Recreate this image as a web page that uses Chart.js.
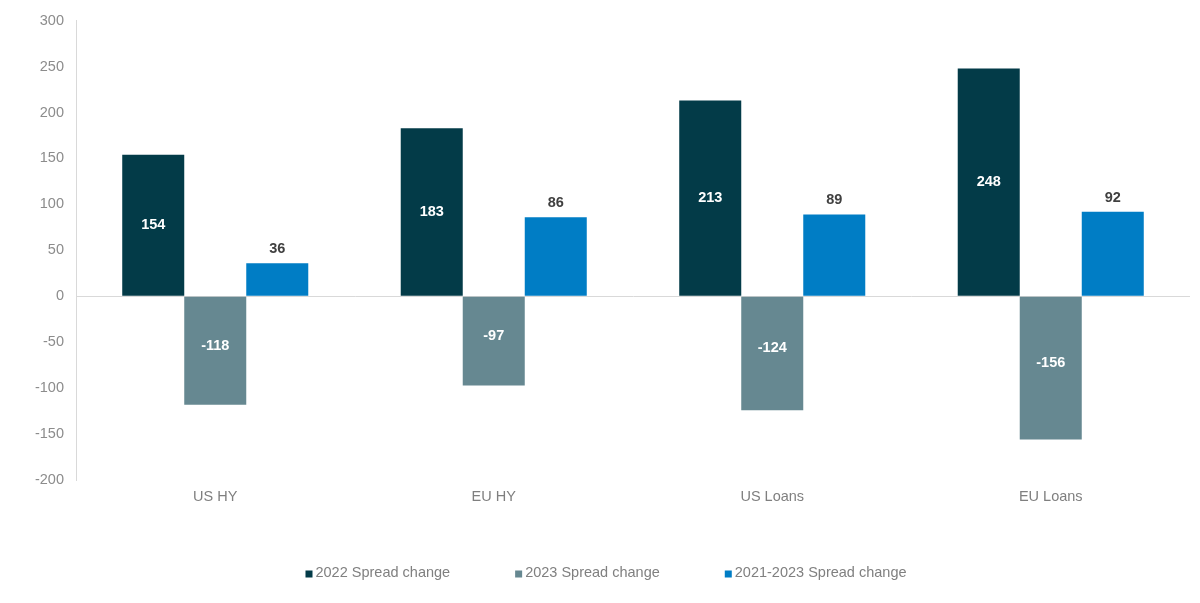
<!DOCTYPE html>
<html>
<head>
<meta charset="utf-8">
<script src="https://cdn.jsdelivr.net/npm/chart.js@4.4.1/dist/chart.umd.min.js"></script>
<style>
    html, body { margin: 0; padding: 0; background: #fff; }
    #wrap { width: 1200px; height: 603px; }
</style>
</head>
<body>
<div id="wrap"><canvas id="myChart"></canvas></div>
<script>
const categorias = ['US HY', 'EU HY', 'US Loans', 'EU Loans'];
const cambio2022 = [154, 183, 213, 248];
const cambio2023 = [-118, -97, -124, -156];
const cambio2021a2023 = [36, 86, 89, 92];
const nombresSeries = ['2022 Spread change', '2023 Spread change', '2021-2023 Spread change'];
const coloresSeries = ['#033b48', '#668891', '#007dc5'];

const fuente = "'Liberation Sans', Arial, sans-serif";

// etiquetas de valores sobre/dentro de las barras
const etiquetasBarras = {
    id: 'etiquetasBarras',
    afterDatasetsDraw(chart) {
        const ctx = chart.ctx;
        ctx.save();
        ctx.font = 'bold 14.5px ' + fuente;
        ctx.textAlign = 'center';
        chart.data.datasets.forEach((ds, i) => {
            const meta = chart.getDatasetMeta(i);
            meta.data.forEach((bar, j) => {
                const v = ds.data[j];
                if (i < 2) {
                    ctx.fillStyle = '#ffffff';
                    ctx.textBaseline = 'middle';
                    const ajuste = v < 0 ? -5 : 0; // las negativas quedan un poco mas arriba
                    ctx.fillText(v, bar.x, (bar.y + bar.base) / 2 + ajuste);
                } else {
                    ctx.fillStyle = '#404040';
                    ctx.textBaseline = 'bottom';
                    ctx.fillText(v, bar.x, bar.y - 7);
                }
            });
        });
        ctx.restore();
    }
};

// leyenda dibujada a mano para poder separar los items
const leyendaAbajo = {
    id: 'leyendaAbajo',
    afterDraw(chart) {
        const ctx = chart.ctx;
        ctx.save();
        ctx.font = '14.5px ' + fuente;
        ctx.textBaseline = 'middle';
        const caja = 7, hueco = 3, separacion = 65;
        const anchos = nombresSeries.map(t => caja + hueco + ctx.measureText(t).width);
        const total = anchos.reduce((a, b) => a + b, 0) + separacion * (anchos.length - 1);
        let x = chart.width / 2 + 6 - total / 2;
        const y = 573;
        nombresSeries.forEach((t, i) => {
            ctx.fillStyle = coloresSeries[i];
            ctx.fillRect(x, y - caja / 2 + 1, caja, caja);
            ctx.fillStyle = '#808080';
            ctx.textAlign = 'left';
            ctx.fillText(t, x + caja + hueco, y);
            x += anchos[i] + separacion;
        });
        ctx.restore();
    }
};

const datas = {
    labels: categorias,
    datasets: [
        { label: nombresSeries[0], data: cambio2022, backgroundColor: coloresSeries[0] },
        { label: nombresSeries[1], data: cambio2023, backgroundColor: coloresSeries[1] },
        { label: nombresSeries[2], data: cambio2021a2023, backgroundColor: coloresSeries[2] }
    ]
};

const config = {
    type: 'bar',
    data: datas,
    options: {
        responsive: true,
        maintainAspectRatio: false,
        animation: false,
        datasets: {
            bar: {
                categoryPercentage: 0.668,
                barPercentage: 1.0,
                borderWidth: 0
            }
        },
        layout: {
            padding: { top: 18, right: 10, bottom: 80, left: 0 }
        },
        plugins: {
            legend: { display: false },
            tooltip: { enabled: false }
        },
        scales: {
            x: {
                grid: { display: false, drawTicks: false },
                border: { display: false },
                ticks: {
                    color: '#7f7f7f',
                    padding: 8,
                    font: { family: fuente, size: 14.5 }
                },
                afterFit: scale => { scale.height = 43; }
            },
            y: {
                min: -200,
                max: 300,
                grid: {
                    drawTicks: false,
                    color: ctx => ctx.tick && ctx.tick.value === 0 ? '#d9d9d9' : 'rgba(0,0,0,0)',
                    lineWidth: 1
                },
                border: { display: true, color: '#d9d9d9' },
                ticks: {
                    stepSize: 50,
                    color: '#8c8c8c',
                    padding: 12,
                    font: { family: fuente, size: 14.5 }
                },
                afterFit: scale => { scale.width = 76; }
            }
        }
    },
    plugins: [etiquetasBarras, leyendaAbajo]
};

myChart = new Chart(document.getElementById('myChart'), config);
</script>
</body>
</html>
